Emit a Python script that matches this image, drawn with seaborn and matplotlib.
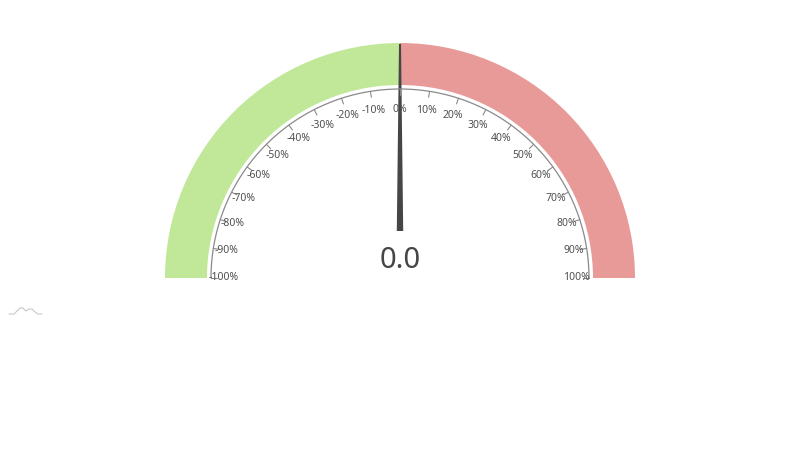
import numpy as np
import matplotlib
matplotlib.use("Agg")
import matplotlib.pyplot as plt
from matplotlib.patches import Wedge, Polygon
import seaborn as sns

# gauge data
gauge_min = -100
gauge_max = 100
gauge_value = 0.0
band_edges = [-100, 0, 100]
band_colors = ["#c1e899", "#e89a99"]
tick_values = [-100, -90, -80, -70, -60, -50, -40, -30, -20, -10,
               0, 10, 20, 30, 40, 50, 60, 70, 80, 90, 100]
tick_labels = [f"{v}%" for v in tick_values]

sns.set_theme(style="white")
plt.rcParams["font.family"] = ["Noto Sans", "DejaVu Sans"]

W, H = 800, 450
fig = plt.figure(figsize=(8, 4.5), dpi=100)
ax = fig.add_axes([0, 0, 1, 1])
ax.set_xlim(0, W)
ax.set_ylim(0, H)
ax.set_aspect("equal")
ax.axis("off")

cx, cy = 400, H - 278
r_out, r_in = 235, 193
r_axis = 189


def to_angle(v):
    return 180.0 - (v - gauge_min) / (gauge_max - gauge_min) * 180.0


# colour bands
for lo, hi, col in zip(band_edges[:-1], band_edges[1:], band_colors):
    ax.add_patch(Wedge((cx, cy), r_out, to_angle(hi), to_angle(lo),
                       width=r_out - r_in, facecolor=col, edgecolor="none"))

# axis line
th = np.radians(np.linspace(0, 180, 200))
ax.plot(cx + r_axis * np.cos(th), cy + r_axis * np.sin(th), color="#8a8a8a", lw=0.9)

# ticks and labels
for v, lab in zip(tick_values, tick_labels):
    a = np.radians(to_angle(v))
    c, s = np.cos(a), np.sin(a)
    ax.plot([cx + r_axis * c, cx + (r_axis - 6) * c],
            [cy + r_axis * s, cy + (r_axis - 6) * s], color="#8a8a8a", lw=0.8)
    rl = 168 + 8 * abs(c)
    ax.text(cx + rl * c, cy + rl * s, lab, ha="center", va="center",
            fontsize=7.5, color="#505050")

# pointer
a = np.radians(to_angle(gauge_value))
c, s = np.cos(a), np.sin(a)
px, py = -s, c
r0, r1 = 47, 234
w0, w1 = 3.2, 1.0
pts = [(cx + r0 * c + w0 * px, cy + r0 * s + w0 * py),
       (cx + r1 * c + w1 * px, cy + r1 * s + w1 * py),
       (cx + r1 * c - w1 * px, cy + r1 * s - w1 * py),
       (cx + r0 * c - w0 * px, cy + r0 * s - w0 * py)]
ax.add_patch(Polygon(pts, closed=True, facecolor="#464646", edgecolor="none"))

# value text
ax.text(cx, H - 260, f"{gauge_value:.1f}", ha="center", va="center",
        fontsize=21, color="#464646")

# small faint icon bottom-left
icon_x = [9, 14, 17, 20, 23, 26, 29, 32, 35, 38, 42]
icon_y = [314, 314, 311, 308, 308, 311, 309, 309, 312, 314, 314]
ax.plot(icon_x, [H - y for y in icon_y], color="#c8c8c8", lw=0.8)

fig.savefig("out.png", dpi=100)
